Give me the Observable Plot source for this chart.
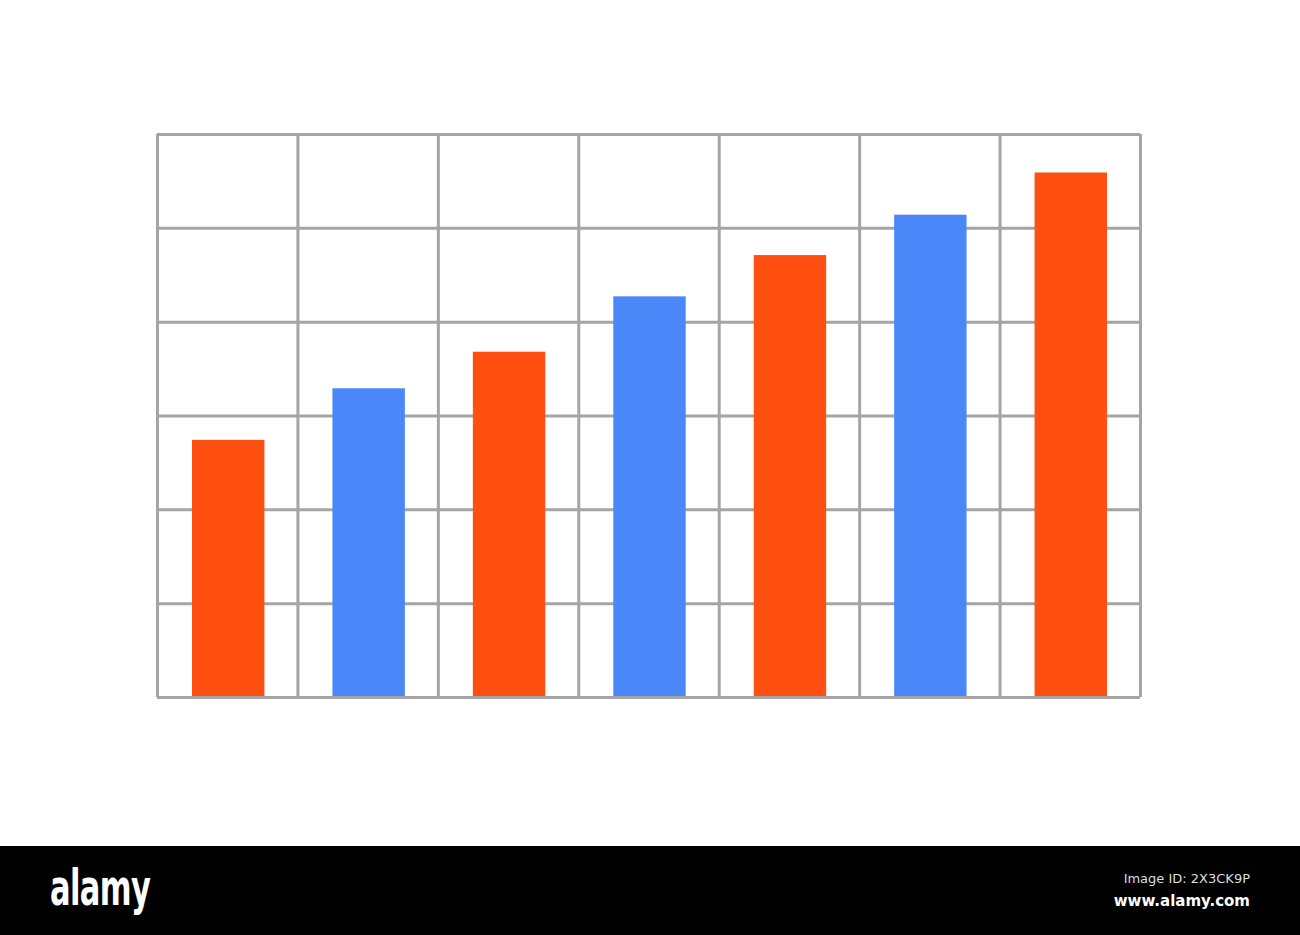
<!DOCTYPE html>
<html>
<head>
<meta charset="utf-8">
<script src="https://cdn.jsdelivr.net/npm/d3@7"></script>
<script src="https://cdn.jsdelivr.net/npm/@observablehq/plot@0.6"></script>
<style>
  html, body { margin: 0; padding: 0; background: #fff; width: 1300px; height: 935px; overflow: hidden; }
  #chart svg { display: block; }
  #footer { position: relative; width: 1300px; height: 89px; background: #000; color: #fff; }
  #logo { position: absolute; left: 50px; top: 17px; font-family: "DejaVu Sans", sans-serif; font-weight: bold; font-size: 50px; line-height: 1; letter-spacing: -1px; transform: scaleX(0.61); transform-origin: left top; }
  #imgid { position: absolute; right: 50px; top: 26px; font-family: "DejaVu Sans", sans-serif; font-size: 13px; line-height: 1; color: #ddd; }
  #url { position: absolute; right: 50px; top: 48px; font-family: "DejaVu Sans", sans-serif; font-weight: bold; font-size: 15px; line-height: 1; }
</style>
</head>
<body>
<div id="chart"></div>
<div id="footer">
  <div id="logo">alamy</div>
  <div id="imgid">Image ID: 2X3CK9P</div>
  <div id="url">www.alamy.com</div>
</div>
<script>
const categories = ["1", "2", "3", "4", "5", "6", "7"];
const values = [27.4, 32.9, 36.8, 42.7, 47.1, 51.4, 55.9];
const groups = ["A", "B", "A", "B", "A", "B", "A"];
const groupColors = ["#ff5012", "#4a88fa"];
const yTicks = [0, 10, 20, 30, 40, 50, 60];

const data = categories.map((c, i) => ({ category: c, index: i, value: values[i], group: groups[i] }));
const columnEdges = d3.range(categories.length + 1);
const gridColor = "#a5a5a5";

const chart = Plot.plot({
  width: 1300,
  height: 846,
  marginLeft: 157,
  marginRight: 160,
  marginTop: 134,
  marginBottom: 149,
  x: { type: "linear", domain: [0, categories.length], axis: null },
  y: { domain: [0, 60], axis: null },
  color: { domain: ["A", "B"], range: groupColors },
  marks: [
    Plot.ruleX(columnEdges, { stroke: gridColor, strokeWidth: 3 }),
    Plot.ruleY(yTicks, { stroke: gridColor, strokeWidth: 3 }),
    Plot.rectY(data, { x: "index", interval: 1, y: "value", fill: "group", insetLeft: 35, insetRight: 33 }),
    Plot.ruleY([0], { stroke: gridColor, strokeWidth: 3 })
  ]
});
document.getElementById("chart").appendChild(chart);
</script>
</body>
</html>
